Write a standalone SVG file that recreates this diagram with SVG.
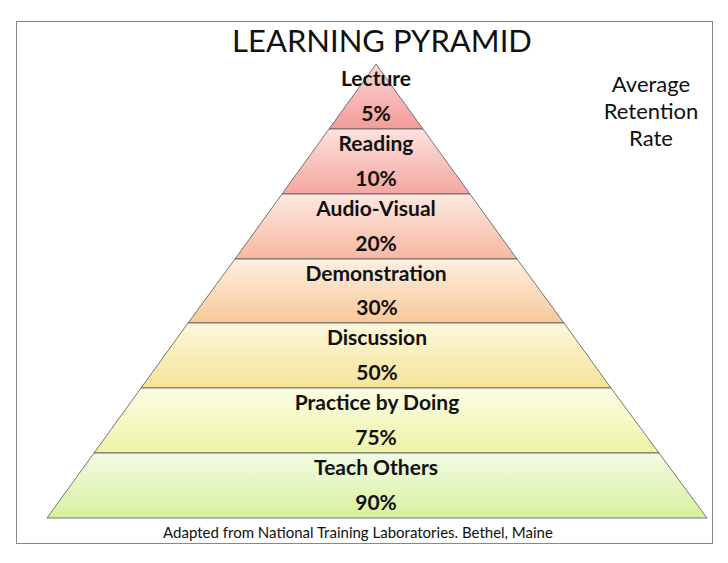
<svg xmlns="http://www.w3.org/2000/svg" width="728" height="563" viewBox="0 0 728 563">
<style>
.lbl{font-family:Lato,"Open Sans",sans-serif;font-weight:bold;font-size:21px;fill:#111;text-anchor:middle}
.band{stroke:#555;stroke-width:0.8}
.side{font-family:Lato,sans-serif;font-size:22px;fill:#111;text-anchor:middle}
</style>
<defs>
<linearGradient id="g1" x1="0" y1="0" x2="0" y2="1"><stop offset="0" stop-color="#fbd6d4"/><stop offset="1" stop-color="#f39c9a"/></linearGradient>
<linearGradient id="g2" x1="0" y1="0" x2="0" y2="1"><stop offset="0" stop-color="#fde2de"/><stop offset="1" stop-color="#f4a6a0"/></linearGradient>
<linearGradient id="g3" x1="0" y1="0" x2="0" y2="1"><stop offset="0" stop-color="#fde8e0"/><stop offset="1" stop-color="#f7b8a2"/></linearGradient>
<linearGradient id="g4" x1="0" y1="0" x2="0" y2="1"><stop offset="0" stop-color="#fdf0e2"/><stop offset="1" stop-color="#f7c898"/></linearGradient>
<linearGradient id="g5" x1="0" y1="0" x2="0" y2="1"><stop offset="0" stop-color="#fdf8dc"/><stop offset="1" stop-color="#f4e398"/></linearGradient>
<linearGradient id="g6" x1="0" y1="0" x2="0" y2="1"><stop offset="0" stop-color="#fbfde4"/><stop offset="1" stop-color="#eef4a6"/></linearGradient>
<linearGradient id="g7" x1="0" y1="0" x2="0" y2="1"><stop offset="0" stop-color="#f2fbe4"/><stop offset="1" stop-color="#d8f09e"/></linearGradient>
</defs>
<rect x="0" y="0" width="728" height="563" fill="#fff"/>
<rect x="16.5" y="21.5" width="696" height="522" fill="#fff" stroke="#888" stroke-width="1"/>
<text x="382" y="52" style="font-family:Lato,sans-serif;font-size:31px;fill:#111;text-anchor:middle">LEARNING PYRAMID</text>
<g id="side"><text class="side" x="651" y="92">Average</text><text class="side" x="651" y="119">Retention</text><text class="side" x="651" y="146">Rate</text></g>
<g id="lecture"><polygon class="band" fill="url(#g1)" points="376,64 423,129 329,129"/><text class="lbl" x="376" y="86">Lecture</text><text class="lbl" x="376" y="121">5%</text></g>
<g id="reading"><polygon class="band" fill="url(#g2)" points="329,129 423,129 470,194 282,194"/><text class="lbl" x="376" y="151">Reading</text><text class="lbl" x="376" y="186">10%</text></g>
<g id="audiovisual"><polygon class="band" fill="url(#g3)" points="282,194 470,194 517,259 235,259"/><text class="lbl" x="376" y="216">Audio-Visual</text><text class="lbl" x="376" y="251">20%</text></g>
<g id="demonstration"><polygon class="band" fill="url(#g4)" points="235,259 517,259 564,323 188,323"/><text class="lbl" x="376" y="281">Demonstration</text><text class="lbl" x="377" y="315">30%</text></g>
<g id="discussion"><polygon class="band" fill="url(#g5)" points="188,323 564,323 611,388 141,388"/><text class="lbl" x="377" y="345">Discussion</text><text class="lbl" x="377" y="380">50%</text></g>
<g id="practice"><polygon class="band" fill="url(#g6)" points="141,388 611,388 659,453 94,453"/><text class="lbl" x="377" y="410">Practice by Doing</text><text class="lbl" x="376" y="445">75%</text></g>
<g id="teach"><polygon class="band" fill="url(#g7)" points="94,453 659,453 707,518 47,518"/><text class="lbl" x="376" y="475">Teach Others</text><text class="lbl" x="376" y="510">90%</text></g>
<text x="358" y="538" style="font-family:Lato,sans-serif;font-size:15px;fill:#111;text-anchor:middle">Adapted from National Training Laboratories. Bethel, Maine</text>
</svg>
